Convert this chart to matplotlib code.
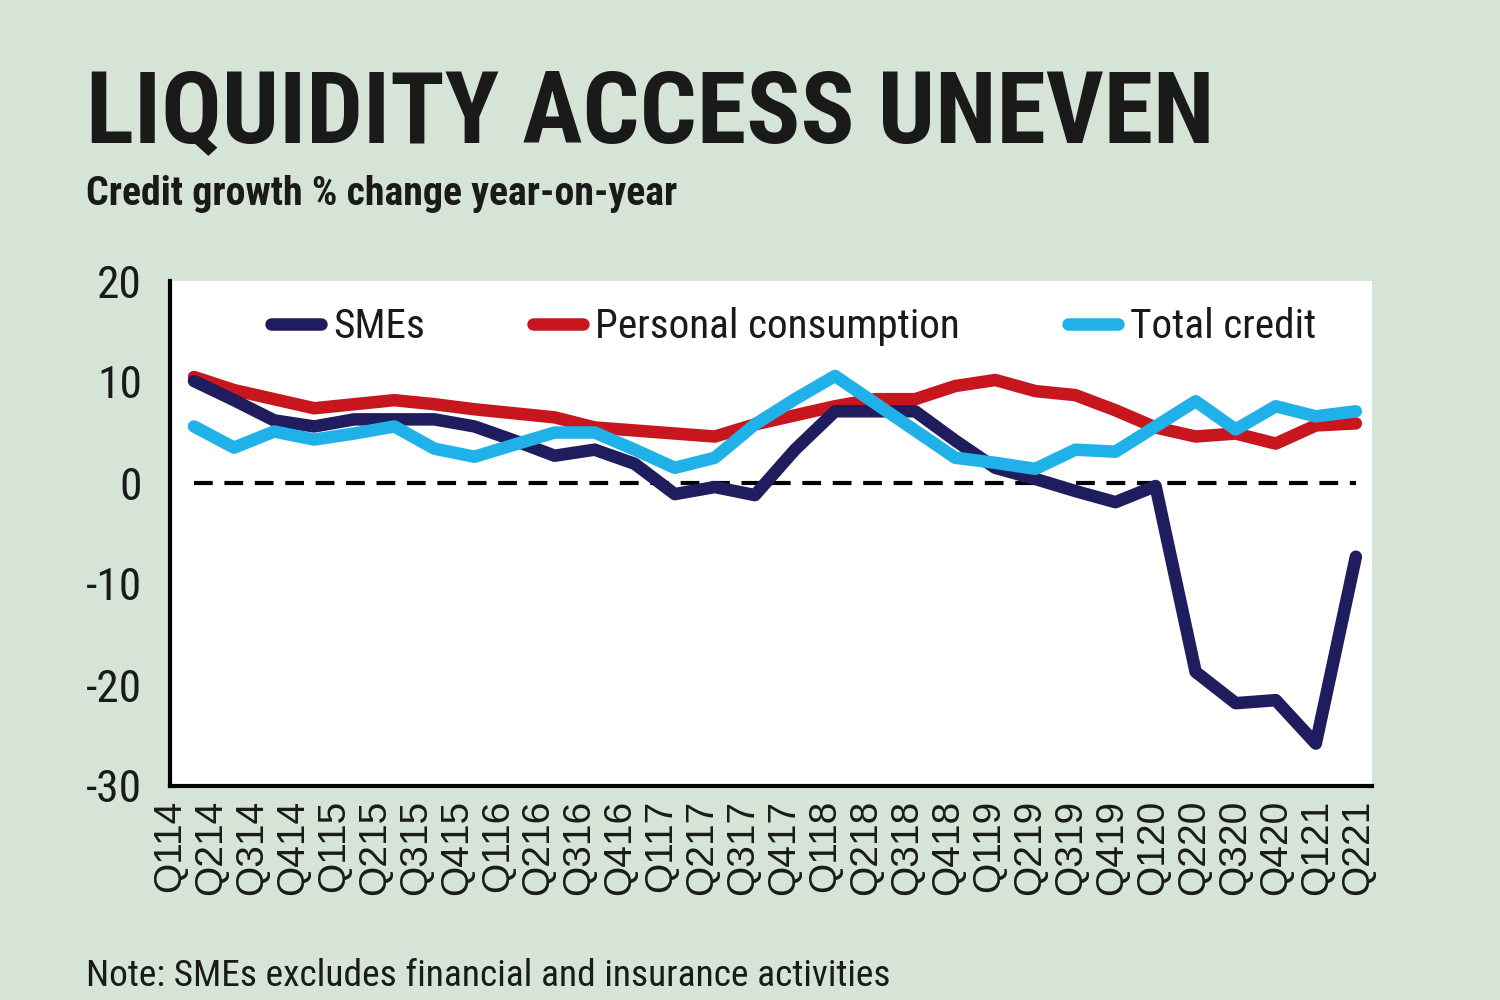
import os
import numpy as np
import matplotlib
matplotlib.use('Agg')
import matplotlib.pyplot as plt
from matplotlib import font_manager
from matplotlib.font_manager import FontProperties

# credit growth, % change year-on-year
quarters = ['Q114', 'Q214', 'Q314', 'Q414', 'Q115', 'Q215', 'Q315', 'Q415',
            'Q116', 'Q216', 'Q316', 'Q416', 'Q117', 'Q217', 'Q317', 'Q417',
            'Q118', 'Q218', 'Q318', 'Q418', 'Q119', 'Q219', 'Q319', 'Q419',
            'Q120', 'Q220', 'Q320', 'Q420', 'Q121', 'Q221']
smes = [10.1, 8.2, 6.2, 5.6, 6.3, 6.3, 6.3, 5.6, 4.2, 2.7, 3.3, 1.9, -1.1, -0.4, -1.2,
        3.3, 7.1, 7.1, 7.1, 4.2, 1.5, 0.4, -0.8, -1.9, -0.3, -18.7, -21.8, -21.5, -25.8, -7.3]
personal = [10.5, 9.2, 8.3, 7.4, 7.8, 8.2, 7.8, 7.3, 6.9, 6.5, 5.5, 5.2, 4.9, 4.6, 5.8,
            6.7, 7.6, 8.3, 8.3, 9.6, 10.2, 9.1, 8.7, 7.2, 5.5, 4.6, 4.9, 3.9, 5.7, 5.9]
total = [5.6, 3.5, 5.1, 4.3, 4.9, 5.6, 3.4, 2.6, 3.8, 5.0, 5.0, 3.3, 1.5, 2.5, 5.8,
         8.3, 10.6, 7.9, 5.2, 2.5, 2.0, 1.4, 3.3, 3.1, 5.6, 8.1, 5.3, 7.6, 6.6, 7.1]
yticks = [-30, -20, -10, 0, 10, 20]
ytick_labels = ['-30', '-20', '-10', '0', '10', '20']

bg = '#d5e4d7'
ink = '#1a1a1a'
navy = '#1f1d5e'
red = '#c8161f'
cyan = '#1fb1e7'

# look for condensed font files (by name fragment), fall back to DejaVu
files = sorted(f.fname for f in font_manager.fontManager.ttflist)


def pick(cands, weight):
    for c in cands:
        for f in files:
            base = os.path.basename(f)
            if base.lower().startswith(c.lower()):
                return FontProperties(fname=f)
    return FontProperties(family='DejaVu Sans', stretch='condensed', weight=weight)


heavy = pick(['RobotoCondensed-Black', 'RobotoCondensed-ExtraBold', 'RobotoCondensed-Bold.',
              'OpenSans-CondBold', 'OpenSansCondensed-Bold', 'LiberationSansNarrow-Bold.',
              'DejaVuSansCondensed-Bold.'], 'bold')
semibold = pick(['RobotoCondensed-Bold.', 'OpenSans-CondBold', 'OpenSansCondensed-Bold',
                 'LiberationSansNarrow-Bold.', 'DejaVuSansCondensed-Bold.'], 'bold')
regular = pick(['RobotoCondensed-Regular', 'LiberationSansNarrow-Regular',
                'DejaVuSansCondensed.'], 'normal')
plain = ['Liberation Sans', 'DejaVu Sans']

fig = plt.figure(figsize=(15, 10), dpi=100, facecolor=bg)
ax = fig.add_axes([0.1133, 0.214, 0.8013, 0.505])
ax.set_facecolor('white')
r = fig.canvas.get_renderer()


def size_for(text, props, width_px):
    # font size that makes text this wide
    t = fig.text(0, 0, text, fontproperties=props, fontsize=40)
    w = t.get_window_extent(r).width
    t.remove()
    return 40 * width_px / w


x = np.arange(len(quarters))
ax.hlines(0, x[0], x[-1], colors='black', linestyles=(0, (4.5, 2.8)), lw=3, zorder=2)
ax.plot(x, personal, color=red, lw=9, solid_capstyle='round', label='Personal consumption', zorder=3)
ax.plot(x, smes, color=navy, lw=9, solid_capstyle='round', label='SMEs', zorder=4)
ax.plot(x, total, color=cyan, lw=9, solid_capstyle='round', label='Total credit', zorder=5)

ax.set_xlim(-0.5, 29.4)
ax.set_ylim(-30, 20)

for s in ['top', 'right']:
    ax.spines[s].set_visible(False)
for s in ['left', 'bottom']:
    ax.spines[s].set_linewidth(3)
    ax.spines[s].set_color('black')

ax.set_yticks(yticks)
ax.set_yticklabels(ytick_labels, color=ink)
ysize = min(34, size_for('-30', regular, 56))
for t in ax.get_yticklabels():
    t.set_fontproperties(regular)
    t.set_fontsize(ysize)
# labels sit slightly off the data points in the original
tick_pos = np.linspace(-0.6, 29.05, len(quarters))
ax.set_xticks(tick_pos)
ax.set_xticklabels(quarters, rotation=90, fontfamily=plain, fontsize=28, color=ink, va='top')
ax.tick_params(axis='y', length=0, pad=20)
ax.tick_params(axis='x', length=0, pad=10)

h, l = ax.get_legend_handles_labels()
order = [1, 0, 2]
lsize = min(34, size_for('Personal consumption', regular, 365))
em = lsize * 100 / 72
leg_font = regular.copy()
leg_font.set_size(lsize)
leg = ax.legend([h[i] for i in order], [l[i] for i in order], loc='center',
                bbox_to_anchor=(0.519, 0.909), ncol=3, frameon=False,
                handlelength=50 / em, handletextpad=12 / em, columnspacing=108 / em,
                prop=leg_font)
for t in leg.get_texts():
    t.set_color(ink)

title = fig.text(0.057, 0.858, 'LIQUIDITY ACCESS UNEVEN', fontproperties=heavy,
                 color=ink, va='baseline')
sub = fig.text(0.057, 0.795, 'Credit growth % change year-on-year', fontproperties=semibold,
               color=ink, va='baseline')
note = fig.text(0.057, 0.014, 'Note: SMEs excludes financial and insurance activities',
                fontproperties=regular, color=ink, va='baseline')

# scale the headline texts so their widths match the original
for t, w in [(title, 1127), (sub, 592), (note, 805)]:
    t.set_fontsize(size_for(t.get_text(), t.get_fontproperties(), w))

fig.savefig('out.png', dpi=100, facecolor=bg)
